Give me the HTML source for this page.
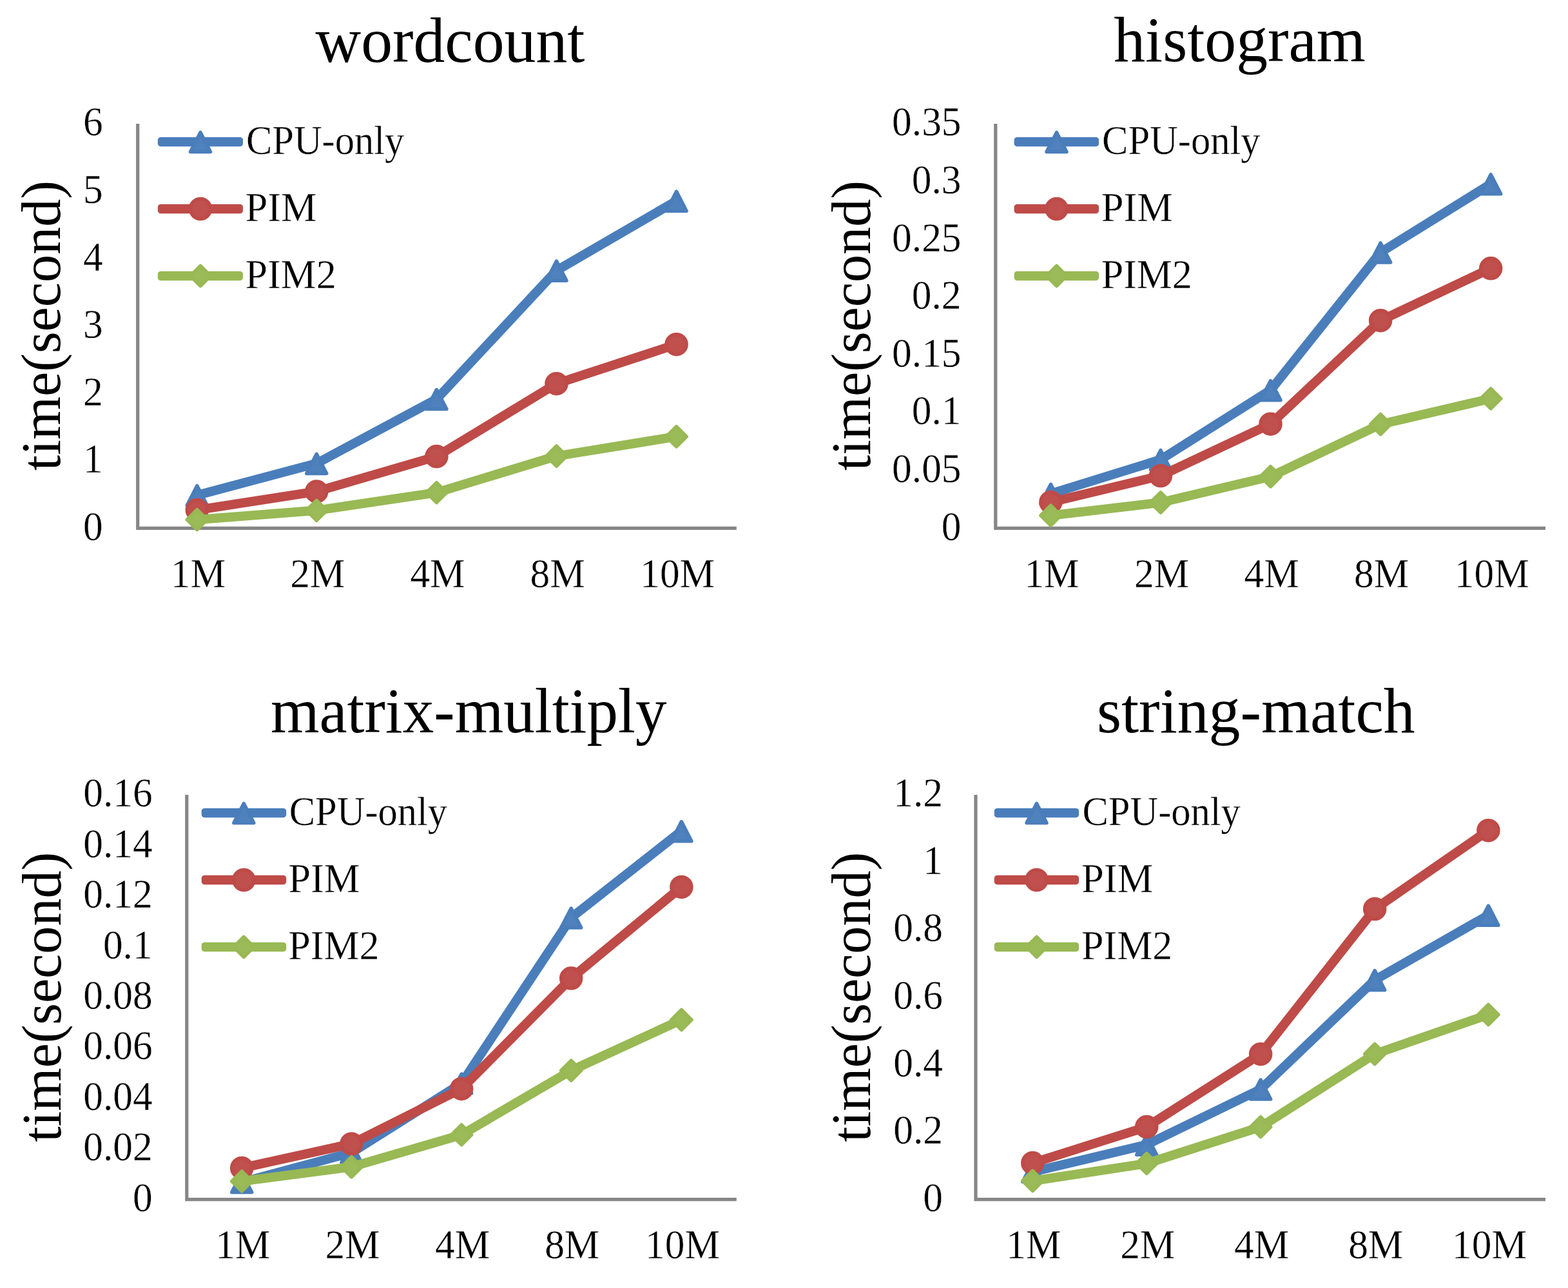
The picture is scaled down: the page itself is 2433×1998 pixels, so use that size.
<!DOCTYPE html>
<html lang="en">
<head>
<meta charset="utf-8">
<title>Execution time: CPU-only vs PIM vs PIM2</title>
<style>
html,body{margin:0;padding:0;background:#fff;}
body{width:2433px;height:1998px;overflow:hidden;}
svg{display:block;}
text{font-family:"Liberation Serif","DejaVu Serif",serif;fill:#000;}
.tt{font-size:100px;}
.yl{font-size:87.5px;}
.tk{font-size:62.5px;stroke:#fff;stroke-width:0.4px;}
.lg{font-size:62.5px;stroke:#fff;stroke-width:0.4px;}
</style>
</head>
<body>
<svg width="2433" height="1998" viewBox="0 0 2433 1998" role="img" aria-label="Execution time of wordcount, histogram, matrix-multiply and string-match for CPU-only, PIM and PIM2">
<rect width="2433" height="1998" fill="#fff"/>
<g id="chart-wordcount">
<text class="tt" transform="translate(698.5 95.6) scale(0.977 1)" text-anchor="middle">wordcount</text>
<text class="yl" transform="translate(93.2 505) rotate(-90) scale(0.985 1)" text-anchor="middle">time(second)</text>
<path d="M213.7 192V819.3H1142.8" fill="none" stroke="#868686" stroke-width="5.2" stroke-linejoin="miter"/>
<text class="tk" transform="translate(159.6 837.7) scale(0.982 1)" text-anchor="end">0</text>
<text class="tk" transform="translate(159.6 733.15) scale(0.982 1)" text-anchor="end">1</text>
<text class="tk" transform="translate(159.6 628.6) scale(0.982 1)" text-anchor="end">2</text>
<text class="tk" transform="translate(159.6 524.05) scale(0.982 1)" text-anchor="end">3</text>
<text class="tk" transform="translate(159.6 419.5) scale(0.982 1)" text-anchor="end">4</text>
<text class="tk" transform="translate(159.6 314.95) scale(0.982 1)" text-anchor="end">5</text>
<text class="tk" transform="translate(159.6 210.4) scale(0.982 1)" text-anchor="end">6</text>
<text class="tk" transform="translate(307.4 910.7) scale(0.982 1)" text-anchor="middle">1M</text>
<text class="tk" transform="translate(492.8 910.7) scale(0.982 1)" text-anchor="middle">2M</text>
<text class="tk" transform="translate(679 910.7) scale(0.982 1)" text-anchor="middle">4M</text>
<text class="tk" transform="translate(865.1 910.7) scale(0.982 1)" text-anchor="middle">8M</text>
<text class="tk" transform="translate(1051.2 910.7) scale(0.982 1)" text-anchor="middle">10M</text>
<g transform="translate(0.3 0.4)">
<polyline points="305.5,767.8 490.9,718.5 677.1,618.7 863.2,419.3 1049.3,311.3" fill="none" stroke="#4A7EBB" stroke-width="14.4" stroke-linejoin="round" stroke-linecap="round"/>
<path d="M305.5 753.2L321 783.3L290 783.3Z" fill="#4F81BD" stroke="#4A7EBB" stroke-width="5.5" stroke-linejoin="round"/>
<path d="M490.9 703.9L506.4 734L475.4 734Z" fill="#4F81BD" stroke="#4A7EBB" stroke-width="5.5" stroke-linejoin="round"/>
<path d="M677.1 604.1L692.6 634.2L661.6 634.2Z" fill="#4F81BD" stroke="#4A7EBB" stroke-width="5.5" stroke-linejoin="round"/>
<path d="M863.2 404.7L878.7 434.8L847.7 434.8Z" fill="#4F81BD" stroke="#4A7EBB" stroke-width="5.5" stroke-linejoin="round"/>
<path d="M1049.3 296.7L1064.8 326.8L1033.8 326.8Z" fill="#4F81BD" stroke="#4A7EBB" stroke-width="5.5" stroke-linejoin="round"/>
<polyline points="305.5,790.7 490.9,762 677.1,707.7 863.2,594.8 1049.3,533.8" fill="none" stroke="#BE4B48" stroke-width="14.4" stroke-linejoin="round" stroke-linecap="round"/>
<circle cx="305.5" cy="790.7" r="15.5" fill="#C0504D" stroke="#BE4B48" stroke-width="5.5"/>
<circle cx="490.9" cy="762" r="15.5" fill="#C0504D" stroke="#BE4B48" stroke-width="5.5"/>
<circle cx="677.1" cy="707.7" r="15.5" fill="#C0504D" stroke="#BE4B48" stroke-width="5.5"/>
<circle cx="863.2" cy="594.8" r="15.5" fill="#C0504D" stroke="#BE4B48" stroke-width="5.5"/>
<circle cx="1049.3" cy="533.8" r="15.5" fill="#C0504D" stroke="#BE4B48" stroke-width="5.5"/>
<polyline points="305.5,805.7 490.9,791.4 677.1,763.7 863.2,707.1 1049.3,676.8" fill="none" stroke="#98B954" stroke-width="14.4" stroke-linejoin="round" stroke-linecap="round"/>
<path d="M305.5 790.2L321 805.7L305.5 821.2L290 805.7Z" fill="#9BBB59" stroke="#98B954" stroke-width="5.5" stroke-linejoin="round"/>
<path d="M490.9 775.9L506.4 791.4L490.9 806.9L475.4 791.4Z" fill="#9BBB59" stroke="#98B954" stroke-width="5.5" stroke-linejoin="round"/>
<path d="M677.1 748.2L692.6 763.7L677.1 779.2L661.6 763.7Z" fill="#9BBB59" stroke="#98B954" stroke-width="5.5" stroke-linejoin="round"/>
<path d="M863.2 691.6L878.7 707.1L863.2 722.6L847.7 707.1Z" fill="#9BBB59" stroke="#98B954" stroke-width="5.5" stroke-linejoin="round"/>
<path d="M1049.3 661.3L1064.8 676.8L1049.3 692.3L1033.8 676.8Z" fill="#9BBB59" stroke="#98B954" stroke-width="5.5" stroke-linejoin="round"/>
</g>
<rect x="244.8" y="212.8" width="132.2" height="14.4" rx="5" ry="4.2" fill="#4A7EBB"/>
<path d="M311 205.4L326.5 235.5L295.5 235.5Z" fill="#4F81BD" stroke="#4A7EBB" stroke-width="5.5" stroke-linejoin="round"/>
<text class="lg" transform="translate(381.9 238.8) scale(0.968 1)">CPU-only</text>
<rect x="244.8" y="316.8" width="132.2" height="14.4" rx="5" ry="4.2" fill="#BE4B48"/>
<circle cx="311" cy="324" r="15.5" fill="#C0504D" stroke="#BE4B48" stroke-width="5.5"/>
<text class="lg" transform="translate(380.5 342.8) scale(1 1)">PIM</text>
<rect x="244.8" y="420.8" width="132.2" height="14.4" rx="5" ry="4.2" fill="#98B954"/>
<path d="M311 412.5L326.5 428L311 443.5L295.5 428Z" fill="#9BBB59" stroke="#98B954" stroke-width="5.5" stroke-linejoin="round"/>
<text class="lg" transform="translate(380.5 446.8) scale(0.9914 1)">PIM2</text>
</g>
<g id="chart-histogram">
<text class="tt" transform="translate(1923.5 95.4) scale(0.977 1)" text-anchor="middle">histogram</text>
<text class="yl" transform="translate(1349.9 505) rotate(-90) scale(0.985 1)" text-anchor="middle">time(second)</text>
<path d="M1544.8 192V819.3H2398" fill="none" stroke="#868686" stroke-width="5.2" stroke-linejoin="miter"/>
<text class="tk" transform="translate(1491.5 837.7) scale(0.982 1)" text-anchor="end">0</text>
<text class="tk" transform="translate(1491.5 748.09) scale(0.982 1)" text-anchor="end">0.05</text>
<text class="tk" transform="translate(1491.5 658.47) scale(0.982 1)" text-anchor="end">0.1</text>
<text class="tk" transform="translate(1491.5 568.86) scale(0.982 1)" text-anchor="end">0.15</text>
<text class="tk" transform="translate(1491.5 479.24) scale(0.982 1)" text-anchor="end">0.2</text>
<text class="tk" transform="translate(1491.5 389.63) scale(0.982 1)" text-anchor="end">0.25</text>
<text class="tk" transform="translate(1491.5 300.01) scale(0.982 1)" text-anchor="end">0.3</text>
<text class="tk" transform="translate(1491.5 210.4) scale(0.982 1)" text-anchor="end">0.35</text>
<text class="tk" transform="translate(1632 910.7) scale(0.982 1)" text-anchor="middle">1M</text>
<text class="tk" transform="translate(1802.5 910.7) scale(0.982 1)" text-anchor="middle">2M</text>
<text class="tk" transform="translate(1973.1 910.7) scale(0.982 1)" text-anchor="middle">4M</text>
<text class="tk" transform="translate(2143.7 910.7) scale(0.982 1)" text-anchor="middle">8M</text>
<text class="tk" transform="translate(2314.8 910.7) scale(0.982 1)" text-anchor="middle">10M</text>
<g transform="translate(0.3 0.4)">
<polyline points="1630.1,765.5 1800.6,712.6 1971.2,604.8 2141.8,391.1 2312.9,284.9" fill="none" stroke="#4A7EBB" stroke-width="14.4" stroke-linejoin="round" stroke-linecap="round"/>
<path d="M1630.1 750.9L1645.6 781L1614.6 781Z" fill="#4F81BD" stroke="#4A7EBB" stroke-width="5.5" stroke-linejoin="round"/>
<path d="M1800.6 698L1816.1 728.1L1785.1 728.1Z" fill="#4F81BD" stroke="#4A7EBB" stroke-width="5.5" stroke-linejoin="round"/>
<path d="M1971.2 590.2L1986.7 620.3L1955.7 620.3Z" fill="#4F81BD" stroke="#4A7EBB" stroke-width="5.5" stroke-linejoin="round"/>
<path d="M2141.8 376.5L2157.3 406.6L2126.3 406.6Z" fill="#4F81BD" stroke="#4A7EBB" stroke-width="5.5" stroke-linejoin="round"/>
<path d="M2312.9 270.3L2328.4 300.4L2297.4 300.4Z" fill="#4F81BD" stroke="#4A7EBB" stroke-width="5.5" stroke-linejoin="round"/>
<polyline points="1630.1,778.6 1800.6,737.7 1971.2,657.3 2141.8,496.8 2312.9,415.9" fill="none" stroke="#BE4B48" stroke-width="14.4" stroke-linejoin="round" stroke-linecap="round"/>
<circle cx="1630.1" cy="778.6" r="15.5" fill="#C0504D" stroke="#BE4B48" stroke-width="5.5"/>
<circle cx="1800.6" cy="737.7" r="15.5" fill="#C0504D" stroke="#BE4B48" stroke-width="5.5"/>
<circle cx="1971.2" cy="657.3" r="15.5" fill="#C0504D" stroke="#BE4B48" stroke-width="5.5"/>
<circle cx="2141.8" cy="496.8" r="15.5" fill="#C0504D" stroke="#BE4B48" stroke-width="5.5"/>
<circle cx="2312.9" cy="415.9" r="15.5" fill="#C0504D" stroke="#BE4B48" stroke-width="5.5"/>
<polyline points="1630.1,799.2 1800.6,779.1 1971.2,738.8 2141.8,657.8 2312.9,618" fill="none" stroke="#98B954" stroke-width="14.4" stroke-linejoin="round" stroke-linecap="round"/>
<path d="M1630.1 783.7L1645.6 799.2L1630.1 814.7L1614.6 799.2Z" fill="#9BBB59" stroke="#98B954" stroke-width="5.5" stroke-linejoin="round"/>
<path d="M1800.6 763.6L1816.1 779.1L1800.6 794.6L1785.1 779.1Z" fill="#9BBB59" stroke="#98B954" stroke-width="5.5" stroke-linejoin="round"/>
<path d="M1971.2 723.3L1986.7 738.8L1971.2 754.3L1955.7 738.8Z" fill="#9BBB59" stroke="#98B954" stroke-width="5.5" stroke-linejoin="round"/>
<path d="M2141.8 642.3L2157.3 657.8L2141.8 673.3L2126.3 657.8Z" fill="#9BBB59" stroke="#98B954" stroke-width="5.5" stroke-linejoin="round"/>
<path d="M2312.9 602.5L2328.4 618L2312.9 633.5L2297.4 618Z" fill="#9BBB59" stroke="#98B954" stroke-width="5.5" stroke-linejoin="round"/>
</g>
<rect x="1573.6" y="212.8" width="131.5" height="14.4" rx="5" ry="4.2" fill="#4A7EBB"/>
<path d="M1639.5 205.4L1655 235.5L1624 235.5Z" fill="#4F81BD" stroke="#4A7EBB" stroke-width="5.5" stroke-linejoin="round"/>
<text class="lg" transform="translate(1710.1 238.8) scale(0.968 1)">CPU-only</text>
<rect x="1573.6" y="316.8" width="131.5" height="14.4" rx="5" ry="4.2" fill="#BE4B48"/>
<circle cx="1639.5" cy="324" r="15.5" fill="#C0504D" stroke="#BE4B48" stroke-width="5.5"/>
<text class="lg" transform="translate(1708.7 342.8) scale(1 1)">PIM</text>
<rect x="1573.6" y="420.8" width="131.5" height="14.4" rx="5" ry="4.2" fill="#98B954"/>
<path d="M1639.5 412.5L1655 428L1639.5 443.5L1624 428Z" fill="#9BBB59" stroke="#98B954" stroke-width="5.5" stroke-linejoin="round"/>
<text class="lg" transform="translate(1708.7 446.8) scale(0.9914 1)">PIM2</text>
</g>
<g id="chart-matrix-multiply">
<text class="tt" transform="translate(727.3 1136.3) scale(0.9707 1)" text-anchor="middle">matrix-multiply</text>
<text class="yl" transform="translate(93.5 1546.6) rotate(-90) scale(0.985 1)" text-anchor="middle">time(second)</text>
<path d="M289.8 1233V1860.6H1142.8" fill="none" stroke="#868686" stroke-width="5.2" stroke-linejoin="miter"/>
<text class="tk" transform="translate(236.6 1878.6) scale(0.982 1)" text-anchor="end">0</text>
<text class="tk" transform="translate(236.6 1800.2) scale(0.982 1)" text-anchor="end">0.02</text>
<text class="tk" transform="translate(236.6 1721.8) scale(0.982 1)" text-anchor="end">0.04</text>
<text class="tk" transform="translate(236.6 1643.4) scale(0.982 1)" text-anchor="end">0.06</text>
<text class="tk" transform="translate(236.6 1565) scale(0.982 1)" text-anchor="end">0.08</text>
<text class="tk" transform="translate(236.6 1486.6) scale(0.982 1)" text-anchor="end">0.1</text>
<text class="tk" transform="translate(236.6 1408.2) scale(0.982 1)" text-anchor="end">0.12</text>
<text class="tk" transform="translate(236.6 1329.8) scale(0.982 1)" text-anchor="end">0.14</text>
<text class="tk" transform="translate(236.6 1251.4) scale(0.982 1)" text-anchor="end">0.16</text>
<text class="tk" transform="translate(376.8 1951.6) scale(0.982 1)" text-anchor="middle">1M</text>
<text class="tk" transform="translate(547 1951.6) scale(0.982 1)" text-anchor="middle">2M</text>
<text class="tk" transform="translate(717.7 1951.6) scale(0.982 1)" text-anchor="middle">4M</text>
<text class="tk" transform="translate(887.8 1951.6) scale(0.982 1)" text-anchor="middle">8M</text>
<text class="tk" transform="translate(1059 1951.6) scale(0.982 1)" text-anchor="middle">10M</text>
<g transform="translate(0.3 0.4)">
<polyline points="374.9,1833.5 545.1,1787.7 715.8,1680.2 885.9,1423.2 1057.1,1288.8" fill="none" stroke="#4A7EBB" stroke-width="14.4" stroke-linejoin="round" stroke-linecap="round"/>
<path d="M374.9 1818.9L390.4 1849L359.4 1849Z" fill="#4F81BD" stroke="#4A7EBB" stroke-width="5.5" stroke-linejoin="round"/>
<path d="M545.1 1773.1L560.6 1803.2L529.6 1803.2Z" fill="#4F81BD" stroke="#4A7EBB" stroke-width="5.5" stroke-linejoin="round"/>
<path d="M715.8 1665.6L731.3 1695.7L700.3 1695.7Z" fill="#4F81BD" stroke="#4A7EBB" stroke-width="5.5" stroke-linejoin="round"/>
<path d="M885.9 1408.6L901.4 1438.7L870.4 1438.7Z" fill="#4F81BD" stroke="#4A7EBB" stroke-width="5.5" stroke-linejoin="round"/>
<path d="M1057.1 1274.2L1072.6 1304.3L1041.6 1304.3Z" fill="#4F81BD" stroke="#4A7EBB" stroke-width="5.5" stroke-linejoin="round"/>
<polyline points="374.9,1811.5 545.1,1774 715.8,1688.5 885.9,1517.2 1057.1,1375.5" fill="none" stroke="#BE4B48" stroke-width="14.4" stroke-linejoin="round" stroke-linecap="round"/>
<circle cx="374.9" cy="1811.5" r="15.5" fill="#C0504D" stroke="#BE4B48" stroke-width="5.5"/>
<circle cx="545.1" cy="1774" r="15.5" fill="#C0504D" stroke="#BE4B48" stroke-width="5.5"/>
<circle cx="715.8" cy="1688.5" r="15.5" fill="#C0504D" stroke="#BE4B48" stroke-width="5.5"/>
<circle cx="885.9" cy="1517.2" r="15.5" fill="#C0504D" stroke="#BE4B48" stroke-width="5.5"/>
<circle cx="1057.1" cy="1375.5" r="15.5" fill="#C0504D" stroke="#BE4B48" stroke-width="5.5"/>
<polyline points="374.9,1832 545.1,1809.8 715.8,1760 885.9,1660.2 1057.1,1581.6" fill="none" stroke="#98B954" stroke-width="14.4" stroke-linejoin="round" stroke-linecap="round"/>
<path d="M374.9 1816.5L390.4 1832L374.9 1847.5L359.4 1832Z" fill="#9BBB59" stroke="#98B954" stroke-width="5.5" stroke-linejoin="round"/>
<path d="M545.1 1794.3L560.6 1809.8L545.1 1825.3L529.6 1809.8Z" fill="#9BBB59" stroke="#98B954" stroke-width="5.5" stroke-linejoin="round"/>
<path d="M715.8 1744.5L731.3 1760L715.8 1775.5L700.3 1760Z" fill="#9BBB59" stroke="#98B954" stroke-width="5.5" stroke-linejoin="round"/>
<path d="M885.9 1644.7L901.4 1660.2L885.9 1675.7L870.4 1660.2Z" fill="#9BBB59" stroke="#98B954" stroke-width="5.5" stroke-linejoin="round"/>
<path d="M1057.1 1566.1L1072.6 1581.6L1057.1 1597.1L1041.6 1581.6Z" fill="#9BBB59" stroke="#98B954" stroke-width="5.5" stroke-linejoin="round"/>
</g>
<rect x="312.7" y="1253.8" width="131.5" height="14.4" rx="5" ry="4.2" fill="#4A7EBB"/>
<path d="M378.3 1246.4L393.8 1276.5L362.8 1276.5Z" fill="#4F81BD" stroke="#4A7EBB" stroke-width="5.5" stroke-linejoin="round"/>
<text class="lg" transform="translate(448.7 1279.8) scale(0.968 1)">CPU-only</text>
<rect x="312.7" y="1357.8" width="131.5" height="14.4" rx="5" ry="4.2" fill="#BE4B48"/>
<circle cx="378.3" cy="1365" r="15.5" fill="#C0504D" stroke="#BE4B48" stroke-width="5.5"/>
<text class="lg" transform="translate(447.3 1383.8) scale(1 1)">PIM</text>
<rect x="312.7" y="1461.8" width="131.5" height="14.4" rx="5" ry="4.2" fill="#98B954"/>
<path d="M378.3 1453.5L393.8 1469L378.3 1484.5L362.8 1469Z" fill="#9BBB59" stroke="#98B954" stroke-width="5.5" stroke-linejoin="round"/>
<text class="lg" transform="translate(447.3 1487.8) scale(0.9914 1)">PIM2</text>
</g>
<g id="chart-string-match">
<text class="tt" transform="translate(1948.8 1136.3) scale(0.977 1)" text-anchor="middle">string-match</text>
<text class="yl" transform="translate(1349.9 1546.6) rotate(-90) scale(0.985 1)" text-anchor="middle">time(second)</text>
<path d="M1514 1233V1860.6H2398" fill="none" stroke="#868686" stroke-width="5.2" stroke-linejoin="miter"/>
<text class="tk" transform="translate(1463 1878.6) scale(0.982 1)" text-anchor="end">0</text>
<text class="tk" transform="translate(1463 1774.07) scale(0.982 1)" text-anchor="end">0.2</text>
<text class="tk" transform="translate(1463 1669.53) scale(0.982 1)" text-anchor="end">0.4</text>
<text class="tk" transform="translate(1463 1565) scale(0.982 1)" text-anchor="end">0.6</text>
<text class="tk" transform="translate(1463 1460.47) scale(0.982 1)" text-anchor="end">0.8</text>
<text class="tk" transform="translate(1463 1355.93) scale(0.982 1)" text-anchor="end">1</text>
<text class="tk" transform="translate(1463 1251.4) scale(0.982 1)" text-anchor="end">1.2</text>
<text class="tk" transform="translate(1603.9 1951.6) scale(0.982 1)" text-anchor="middle">1M</text>
<text class="tk" transform="translate(1780.8 1951.6) scale(0.982 1)" text-anchor="middle">2M</text>
<text class="tk" transform="translate(1957.7 1951.6) scale(0.982 1)" text-anchor="middle">4M</text>
<text class="tk" transform="translate(2134.8 1951.6) scale(0.982 1)" text-anchor="middle">8M</text>
<text class="tk" transform="translate(2311 1951.6) scale(0.982 1)" text-anchor="middle">10M</text>
<g transform="translate(0.3 0.4)">
<polyline points="1602,1817.4 1778.9,1775.3 1955.8,1689.2 2132.9,1519.8 2309.1,1419.3" fill="none" stroke="#4A7EBB" stroke-width="14.4" stroke-linejoin="round" stroke-linecap="round"/>
<path d="M1602 1802.8L1617.5 1832.9L1586.5 1832.9Z" fill="#4F81BD" stroke="#4A7EBB" stroke-width="5.5" stroke-linejoin="round"/>
<path d="M1778.9 1760.7L1794.4 1790.8L1763.4 1790.8Z" fill="#4F81BD" stroke="#4A7EBB" stroke-width="5.5" stroke-linejoin="round"/>
<path d="M1955.8 1674.6L1971.3 1704.7L1940.3 1704.7Z" fill="#4F81BD" stroke="#4A7EBB" stroke-width="5.5" stroke-linejoin="round"/>
<path d="M2132.9 1505.2L2148.4 1535.3L2117.4 1535.3Z" fill="#4F81BD" stroke="#4A7EBB" stroke-width="5.5" stroke-linejoin="round"/>
<path d="M2309.1 1404.7L2324.6 1434.8L2293.6 1434.8Z" fill="#4F81BD" stroke="#4A7EBB" stroke-width="5.5" stroke-linejoin="round"/>
<polyline points="1602,1803.7 1778.9,1747.7 1955.8,1634.8 2132.9,1409.6 2309.1,1287.8" fill="none" stroke="#BE4B48" stroke-width="14.4" stroke-linejoin="round" stroke-linecap="round"/>
<circle cx="1602" cy="1803.7" r="15.5" fill="#C0504D" stroke="#BE4B48" stroke-width="5.5"/>
<circle cx="1778.9" cy="1747.7" r="15.5" fill="#C0504D" stroke="#BE4B48" stroke-width="5.5"/>
<circle cx="1955.8" cy="1634.8" r="15.5" fill="#C0504D" stroke="#BE4B48" stroke-width="5.5"/>
<circle cx="2132.9" cy="1409.6" r="15.5" fill="#C0504D" stroke="#BE4B48" stroke-width="5.5"/>
<circle cx="2309.1" cy="1287.8" r="15.5" fill="#C0504D" stroke="#BE4B48" stroke-width="5.5"/>
<polyline points="1602,1831.4 1778.9,1804.4 1955.8,1747.7 2132.9,1634.6 2309.1,1573.6" fill="none" stroke="#98B954" stroke-width="14.4" stroke-linejoin="round" stroke-linecap="round"/>
<path d="M1602 1815.9L1617.5 1831.4L1602 1846.9L1586.5 1831.4Z" fill="#9BBB59" stroke="#98B954" stroke-width="5.5" stroke-linejoin="round"/>
<path d="M1778.9 1788.9L1794.4 1804.4L1778.9 1819.9L1763.4 1804.4Z" fill="#9BBB59" stroke="#98B954" stroke-width="5.5" stroke-linejoin="round"/>
<path d="M1955.8 1732.2L1971.3 1747.7L1955.8 1763.2L1940.3 1747.7Z" fill="#9BBB59" stroke="#98B954" stroke-width="5.5" stroke-linejoin="round"/>
<path d="M2132.9 1619.1L2148.4 1634.6L2132.9 1650.1L2117.4 1634.6Z" fill="#9BBB59" stroke="#98B954" stroke-width="5.5" stroke-linejoin="round"/>
<path d="M2309.1 1558.1L2324.6 1573.6L2309.1 1589.1L2293.6 1573.6Z" fill="#9BBB59" stroke="#98B954" stroke-width="5.5" stroke-linejoin="round"/>
</g>
<rect x="1542.8" y="1253.8" width="131.3" height="14.4" rx="5" ry="4.2" fill="#4A7EBB"/>
<path d="M1608.5 1246.4L1624 1276.5L1593 1276.5Z" fill="#4F81BD" stroke="#4A7EBB" stroke-width="5.5" stroke-linejoin="round"/>
<text class="lg" transform="translate(1679.5 1279.8) scale(0.968 1)">CPU-only</text>
<rect x="1542.8" y="1357.8" width="131.3" height="14.4" rx="5" ry="4.2" fill="#BE4B48"/>
<circle cx="1608.5" cy="1365" r="15.5" fill="#C0504D" stroke="#BE4B48" stroke-width="5.5"/>
<text class="lg" transform="translate(1678.1 1383.8) scale(1 1)">PIM</text>
<rect x="1542.8" y="1461.8" width="131.3" height="14.4" rx="5" ry="4.2" fill="#98B954"/>
<path d="M1608.5 1453.5L1624 1469L1608.5 1484.5L1593 1469Z" fill="#9BBB59" stroke="#98B954" stroke-width="5.5" stroke-linejoin="round"/>
<text class="lg" transform="translate(1678.1 1487.8) scale(0.9914 1)">PIM2</text>
</g>
</svg>
</body>
</html>
